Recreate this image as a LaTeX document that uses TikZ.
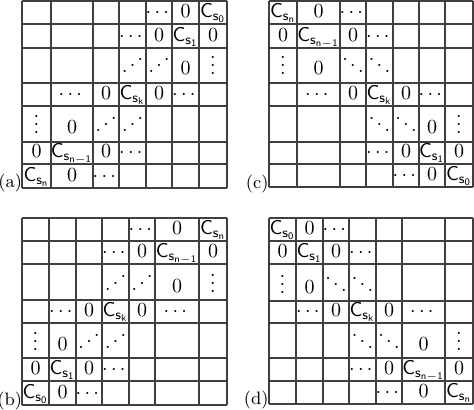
\documentclass[tikz,border=0pt]{standalone}
\usepackage{amsmath}
\usepackage{graphicx}
\usepackage{tikz}
\tikzset{
  cell/.style = {anchor=base, inner sep=0pt},
  tag/.style = {anchor=base east, inner sep=0pt, font=\small},
  gridline/.style = {line width=0.6pt, black!75},
}
\newcommand{\Csub}[1]{\mathsf{C}_{\mathsf{s}_{\mathsf{#1}}}}
\newcommand{\vdts}{\smash{\vdots}}
\newcommand{\ddts}{\smash{\ddots}}
\newcommand{\udts}{\smash{\reflectbox{$\ddots$}}}

\begin{document}
\begin{tikzpicture}[x=0.5pt,y=-0.5pt]
  \useasboundingbox (0,0) rectangle (474,410);
  % (a)
  \foreach \x in {22,51,93,119,146,172,199,227}
    \draw[gridline] (\x,1) -- (\x,188);
  \foreach \y in {1,24,48,83,106,142,164,188}
    \draw[gridline] (22,\y) -- (227,\y);
  \foreach \x/\y/\t [count=\i] in {
      159/17.5/\cdots, 185.5/17.5/0, 213/17.5/\Csub{0},
      132.5/41.5/\cdots, 159/41.5/0, 185.5/41.5/\Csub{1}, 213/41.5/0,
      132.5/75/\udts, 159/75/\udts, 185.5/75/0, 213/75/\vdts,
      72/99.5/\cdots, 106/99.5/0, 132.5/99.5/\Csub{k}, 159/99.5/0, 185.5/99.5/\cdots,
      36.5/134/\vdts, 72/134/0, 106/134/\udts, 132.5/134/\udts,
      36.5/157.5/0, 72/157.5/\Csub{n-1}, 106/157.5/0, 132.5/157.5/\cdots,
      36.5/181.5/\Csub{n}, 72/181.5/0, 106/181.5/\cdots}
    \node[cell] (a\i) at (\x,\y) {$\t$};
  \node[tag] (la) at (22.5,188) {(a)};
  % (c)
  \foreach \x in {269,297,340,366,393,419,445,473}
    \draw[gridline] (\x,1) -- (\x,187);
  \foreach \y in {1,24,48,83,106,142,164,187}
    \draw[gridline] (269,\y) -- (473,\y);
  \foreach \x/\y/\t [count=\i] in {
      283/17.5/\Csub{n}, 318.5/17.5/0, 353/17.5/\cdots,
      283/41.5/0, 318.5/41.5/\Csub{n-1}, 353/41.5/0, 379.5/41.5/\cdots,
      283/75/\vdts, 318.5/75/0, 353/75/\ddts, 379.5/75/\ddts,
      318.5/99.5/\cdots, 353/99.5/0, 379.5/99.5/\Csub{k}, 406/99.5/0, 432/99.5/\cdots,
      379.5/134/\ddts, 406/134/\ddts, 432/134/0, 459/134/\vdts,
      379.5/157.5/\cdots, 406/157.5/0, 432/157.5/\Csub{1}, 459/157.5/0,
      406/180.5/\cdots, 432/180.5/0, 459/180.5/\Csub{0}}
    \node[cell] (c\i) at (\x,\y) {$\t$};
  \node[tag] (lc) at (269,189) {(c)};
  % (b)
  \foreach \x in {22,49,76,102,129,155,199,227}
    \draw[gridline] (\x,218) -- (\x,405);
  \foreach \y in {218,241,264,300,323,358,381,405}
    \draw[gridline] (22,\y) -- (227,\y);
  \foreach \x/\y/\t [count=\i] in {
      142/234.5/\cdots, 177/234.5/0, 213/234.5/\Csub{n},
      115.5/257.5/\cdots, 142/257.5/0, 177/257.5/\Csub{n-1}, 213/257.5/0,
      115.5/292/\udts, 142/292/\udts, 177/292/0, 213/292/\vdts,
      62.5/316.5/\cdots, 89/316.5/0, 115.5/316.5/\Csub{k}, 142/316.5/0, 177/316.5/\cdots,
      35.5/350/\vdts, 62.5/350/0, 89/350/\udts, 115.5/350/\udts,
      35.5/374.5/0, 62.5/374.5/\Csub{1}, 89/374.5/0, 115.5/374.5/\cdots,
      35.5/398.5/\Csub{0}, 62.5/398.5/0, 89/398.5/\cdots}
    \node[cell] (b\i) at (\x,\y) {$\t$};
  \node[tag] (lb) at (22.5,405) {(b)};
  % (d)
  \foreach \x in {269,296,323,349,376,402,445,473}
    \draw[gridline] (\x,218) -- (\x,404);
  \foreach \y in {218,241,264,301,323,358,381,404}
    \draw[gridline] (269,\y) -- (473,\y);
  \foreach \x/\y/\t [count=\i] in {
      282.5/234.5/\Csub{0}, 309.5/234.5/0, 336/234.5/\cdots,
      282.5/257.5/0, 309.5/257.5/\Csub{1}, 336/257.5/0, 362.5/257.5/\cdots,
      282.5/293/\vdts, 309.5/293/0, 336/293/\ddts, 362.5/293/\ddts,
      309.5/316.5/\cdots, 336/316.5/0, 362.5/316.5/\Csub{k}, 389/316.5/0, 423.5/316.5/\cdots,
      362.5/350/\ddts, 389/350/\ddts, 423.5/350/0, 459/350/\vdts,
      362.5/374.5/\cdots, 389/374.5/0, 423.5/374.5/\Csub{n-1}, 459/374.5/0,
      389/397.5/\cdots, 423.5/397.5/0, 459/397.5/\Csub{n}}
    \node[cell] (d\i) at (\x,\y) {$\t$};
  \node[tag] (ld) at (269,404) {(d)};
\end{tikzpicture}
\end{document}
